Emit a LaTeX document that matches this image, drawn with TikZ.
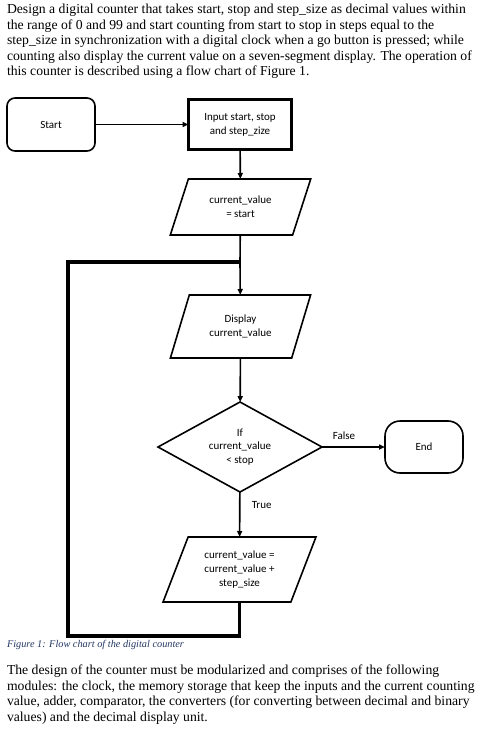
\documentclass[tikz,border=0pt]{standalone}
\usepackage{fontspec}
\setmainfont{Liberation Serif}
\newfontfamily\chartfont{Carlito}
\usetikzlibrary{shapes.geometric,arrows.meta}
\definecolor{captionblue}{RGB}{36,56,100}
\tikzset{every path/.style={black,line width=1.6pt}, every node/.style={inner sep=0pt, outer sep=0pt, align=center, font=\chartfont\fontsize{11}{13.8}\selectfont}}
\tikzset{arrow/.style={-{Triangle[length=6pt,width=5pt]}}, loopline/.style={line width=3.3pt}}
\tikzset{slanted/.style={draw, trapezium, trapezium stretches=true, trapezium left angle=#1, trapezium right angle=180-#1}}

\begin{document}
\begin{tikzpicture}[x=1pt,y=-1pt]
   \useasboundingbox (0,0) rectangle (490,730);
   % text round the chart
   \node[anchor=north west, align=left, font=\rmfamily\fontsize{13.7}{15.5}\selectfont] (intro) at (7,4)
    {Design a digital counter that takes start, stop and step\_size as decimal values within\\
     the range of 0 and 99 and start counting from start to stop in steps equal to the\\
     step\_size in synchronization with a digital clock when a go button is pressed; while\\
     counting also display the current value on a seven-segment display. The operation of\\
     this counter is described using a flow chart of Figure 1.};
   \node[anchor=west, text=captionblue, font=\rmfamily\itshape\fontsize{10.3}{12}\selectfont] (caption) at (7,645)
    {Figure 1: Flow chart of the digital counter};
   \node[anchor=north west, align=left, font=\rmfamily\fontsize{13.7}{15.5}\selectfont] (outro) at (7,665)
    {The design of the counter must be modularized and comprises of the following\\
     modules: the clock, the memory storage that keep the inputs and the current counting\\
     value, adder, comparator, the converters (for converting between decimal and binary\\
     values) and the decimal display unit.};
   % chart
   \node[draw, rounded corners=8pt, minimum width=88pt, minimum height=53pt] (start) at (51,124.5) {Start};
   \node[draw, line width=3.3pt, minimum width=103pt, minimum height=50pt] (input) at (240,124.5) {Input start, stop\\and step\_zize};
   \node[slanted=63.4, minimum width=141pt, minimum height=56pt] (init) at (240.5,207) {current\_value\\= start};
   \node[slanted=63.4, minimum width=141pt, minimum height=63pt] (show) at (240.5,326.5) {Display\\current\_value};
   \node[draw, diamond, aspect=1.82, minimum width=164pt, minimum height=90pt] (check) at (240,447) {If\\current\_value\\< stop};
   \node[draw, rounded corners=15pt, minimum width=78pt, minimum height=52pt] (finish) at (424,447) {End};
   \node[slanted=65.2, minimum width=153pt, minimum height=65pt] (update) at (239.5,569.5) {current\_value =\\current\_value +\\step\_size};
   \coordinate (join) at (240,262);
   \coordinate (looptop) at (68,262);
   \coordinate (loopbottom) at (68,636);
   % connectors
   \draw[arrow] (start) -- (input);
   \draw[arrow] (input) -- (init);
   \draw (init) -- (join);
   \draw[arrow] (join) -- (show);
   \draw[arrow] (show) -- (check);
   \draw[arrow] (check) -- node[pos=0.35, above=7pt] {False} (finish);
   \draw[arrow] (check) -- node[pos=0.28, right=12pt] {True} (update);
   \draw[loopline] (update.south) |- (loopbottom) -- (looptop) -- (join);
  \end{tikzpicture}
\end{document}
